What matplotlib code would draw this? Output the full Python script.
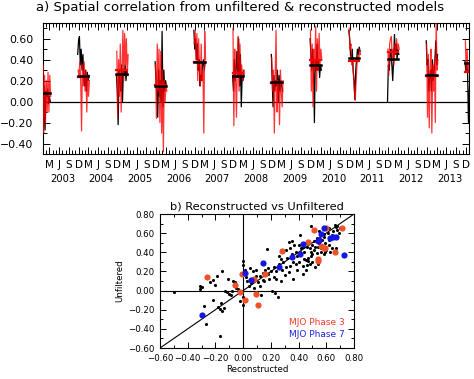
import matplotlib
matplotlib.use("Agg")
import matplotlib.pyplot as plt
import matplotlib.transforms as mtransforms
from matplotlib.ticker import MultipleLocator, FixedLocator

# ---- panel a: spatial correlation per winter season ----
season_years = [2003, 2004, 2005, 2006, 2007, 2008, 2009, 2010, 2011, 2012, 2013, 2014]

black_seasons = [
    [0.20, -0.10, 0.15, -0.05, 0.20, -0.35, 0.15, -0.27, 0.10, 0.05, 0.12, -0.02, 0.05, 0.00],
    [0.45, 0.58, 0.62, 0.35, 0.50, 0.30, 0.45, 0.22, 0.15, 0.30, 0.10, 0.28, 0.20, 0.25],
    [0.25, 0.10, -0.22, 0.30, 0.20, 0.10, 0.35, 0.00, 0.30, 0.25, 0.35, 0.20, 0.30, 0.25],
    [0.38, 0.20, 0.10, -0.15, 0.30, 0.05, 0.20, 0.00, 0.67, -0.05, 0.30, 0.10, 0.20, 0.15],
    [0.68, 0.50, 0.60, 0.40, 0.55, 0.30, 0.40, 0.15, 0.25, 0.20, 0.35, 0.40, 0.30, 0.38],
    [0.25, 0.10, 0.40, 0.20, 0.30, 0.48, 0.25, 0.60, 0.15, 0.45, -0.05, 0.25, 0.20, 0.30],
    [0.45, 0.20, -0.05, 0.25, 0.10, 0.20, 0.15, 0.30, 0.00, 0.25, 0.10, 0.20, 0.15, 0.10],
    [0.60, 0.45, 0.30, 0.50, 0.35, -0.20, 0.40, 0.30, 0.55, 0.30, 0.40, 0.23, 0.35, 0.30],
    [0.68, 0.60, 0.45, 0.40, 0.50, 0.30, 0.20, 0.02, 0.30, 0.40, 0.50, 0.45, 0.52, 0.48],
    [0.00, 0.35, 0.30, 0.45, 0.50, 0.35, 0.20, 0.40, 0.64, 0.45, 0.55, 0.40, 0.50, 0.45],
    [0.58, 0.35, 0.40, 0.10, 0.25, 0.30, 0.10, 0.40, 0.20, 0.30, 0.40, 0.58, 0.35, 0.45],
    [0.38, 0.30, 0.35, 0.28, -0.20, 0.10, 0.30, 0.20, 0.30, 0.25, 0.30, 0.20, 0.30, 0.25],
]
red_seasons = [
    [0.30, -0.05, 0.20, 0.10, 0.35, -0.30, 0.25, -0.20, 0.20, -0.10, 0.28, -0.10, 0.25, 0.05],
    [0.30, 0.25, 0.38, 0.20, -0.28, 0.35, 0.15, 0.38, 0.10, 0.30, -0.10, 0.25, 0.05, 0.20],
    [0.48, -0.14, 0.40, 0.05, 0.55, -0.10, 0.30, 0.68, 0.20, 0.65, 0.35, 0.60, 0.25, 0.45],
    [0.35, -0.16, 0.55, 0.10, 0.50, -0.20, 0.48, -0.30, 0.30, -0.48, 0.20, 0.00, 0.15, 0.10],
    [0.55, 0.68, 0.40, 0.65, 0.20, 0.60, 0.30, 0.15, 0.55, 0.20, 0.30, -0.30, 0.67, 0.40],
    [0.70, -0.23, 0.50, 0.20, -0.15, 0.40, 0.62, 0.10, 0.55, 0.25, 0.35, 0.20, 0.30, 0.25],
    [0.42, 0.10, 0.30, -0.30, 0.25, 0.68, -0.10, 0.20, 0.15, -0.22, 0.30, 0.10, -0.05, 0.20],
    [0.68, 0.10, 0.55, -0.05, 0.50, 0.30, 0.72, 0.10, 0.60, 0.30, 0.65, 0.35, 0.50, 0.40],
    [0.70, 0.50, 0.55, 0.35, 0.40, 0.25, 0.10, 0.01, 0.20, 0.35, 0.45, 0.40, 0.50, 0.45],
    [0.50, 0.25, 0.55, 0.60, 0.62, 0.40, 0.50, 0.35, 0.55, 0.45, 0.60, 0.50, 0.55, 0.50],
    [0.55, -0.15, 0.45, -0.25, 0.30, 0.50, -0.30, 0.35, 0.10, 0.40, -0.20, 0.75, 0.30, 0.40],
    [0.58, 0.30, 0.50, 0.28, 0.35, 0.30, 0.40, 0.30, 0.35, 0.30, 0.40, 0.30, 0.35, 0.30],
]
black_means = [0.08, 0.24, 0.26, 0.15, 0.38, 0.24, 0.19, 0.35, 0.42, 0.41, 0.25, 0.37]
red_means = [0.08, 0.23, 0.30, 0.16, 0.38, 0.27, 0.18, 0.40, 0.39, 0.47, 0.24, 0.28]

month_letters = ["M", "J", "S", "D"]
year_labels = ["2003", "2004", "2005", "2006", "2007", "2008", "2009", "2010", "2011", "2012", "2013"]

# ---- panel b: reconstructed vs unfiltered ----
black_recon = [-0.50, -0.31, -0.31, -0.28, -0.27, -0.24, -0.22, -0.20, -0.22, -0.15, -0.18, -0.17,
               -0.16, -0.15, -0.14, -0.17, -0.11, -0.10, -0.09, -0.08, -0.06, -0.05, -0.13, -0.12,
               -0.02, 0.00, 0.00, -0.04, -0.07, -0.19, 0.00, 0.00, 0.01, 0.03, 0.04, 0.06, 0.05,
               0.07, 0.09, 0.08, 0.10, 0.12, 0.13, 0.15, 0.14, 0.17, 0.18, 0.20, 0.19, 0.21, 0.22,
               0.23, 0.25, 0.24, 0.26, 0.27, 0.28, 0.30, 0.29, 0.32, 0.31, 0.33, 0.34, 0.35, 0.36,
               0.37, 0.38, 0.36, 0.39, 0.40, 0.41, 0.42, 0.43, 0.44, 0.45, 0.44, 0.46, 0.47, 0.47,
               0.48, 0.49, 0.49, 0.50, 0.50, 0.51, 0.52, 0.53, 0.53, 0.54, 0.55, 0.56, 0.57, 0.58,
               0.58, 0.59, 0.60, 0.61, 0.62, 0.63, 0.64, 0.65, 0.66, 0.67, 0.68, 0.69, 0.70, 0.68,
               0.45, 0.46, 0.47, 0.33, 0.54, 0.57, 0.60, 0.16, 0.11, 0.02, 0.26, 0.41, 0.43, 0.52,
               0.62, 0.38, 0.40, 0.44, 0.48, 0.49, 0.51, 0.56, 0.39, 0.31, 0.27, 0.35, 0.22, 0.18,
               0.12, 0.14, 0.09, 0.24, 0.34, 0.43, 0.50, 0.59, 0.55, 0.62, 0.64, 0.67, 0.58, -0.30]
black_unfilt = [-0.02, 0.05, 0.02, -0.16, -0.35, 0.09, 0.11, 0.06, -0.10, 0.20, -0.17, -0.19,
                -0.13, -0.21, -0.18, -0.47, 0.12, -0.04, -0.05, 0.00, 0.09, 0.03, 0.00, -0.02,
                -0.11, -0.07, -0.15, 0.02, 0.10, 0.15, 0.31, 0.27, 0.21, 0.10, 0.05, 0.08, 0.24,
                0.20, 0.15, 0.03, -0.03, 0.05, -0.05, 0.10, 0.18, 0.43, 0.24, 0.20, 0.12, 0.00, 0.14,
                -0.03, -0.07, 0.20, 0.28, 0.10, 0.22, 0.16, 0.30, 0.34, 0.42, 0.19, 0.26, 0.52, 0.30,
                0.48, 0.28, 0.12, 0.36, 0.30, 0.58, 0.44, 0.26, 0.33, 0.22, 0.40, 0.46, 0.31, 0.52,
                0.28, 0.36, 0.67, 0.48, 0.30, 0.42, 0.25, 0.39, 0.55, 0.46, 0.50, 0.40, 0.44, 0.38,
                0.56, 0.50, 0.42, 0.60, 0.48, 0.40, 0.58, 0.62, 0.68, 0.66, 0.63, 0.60, 0.65, 0.67,
                0.32, 0.27, 0.34, 0.51, 0.28, 0.53, 0.45, 0.22, 0.09, 0.14, 0.36, 0.40, 0.46, 0.46,
                0.53, 0.40, 0.48, 0.50, 0.45, 0.40, 0.52, 0.45, 0.21, 0.25, 0.33, 0.38, 0.25, 0.17,
                0.15, 0.11, 0.21, 0.12, 0.44, 0.17, 0.38, 0.40, 0.62, 0.65, 0.45, 0.44, 0.59, 0.04]

phase3_recon = [-0.26, -0.06, -0.01, 0.01, -0.02, 0.09, 0.11, 0.08, 0.16, 0.28, 0.47, 0.51,
                0.54, 0.54, 0.56, 0.58, 0.59, 0.66, 0.71, 0.60]
phase3_unfilt = [0.14, 0.06, 0.17, -0.10, -0.02, -0.04, -0.15, 0.12, 0.17, 0.41, 0.51, 0.63,
                 0.33, 0.31, 0.47, 0.44, 0.45, 0.40, 0.65, 0.65]
phase7_recon = [-0.30, 0.01, 0.06, 0.14, 0.26, 0.35, 0.41, 0.43, 0.55, 0.56, 0.58, 0.63,
                0.65, 0.67, 0.73, 0.54]
phase7_unfilt = [-0.25, 0.18, 0.11, 0.29, 0.25, 0.35, 0.38, 0.49, 0.53, 0.59, 0.65, 0.55,
                 0.56, 0.56, 0.37, 0.52]

fig = plt.figure(figsize=(4.74, 3.79), dpi=100)

# ---------------- panel a ----------------
ax = fig.add_axes([43 / 474, 1 - 154 / 379, 426 / 474, 131 / 379])
npts = len(black_seasons[0])
for i, yr in enumerate(season_years):
    start = 12 * (yr - 2003) - 1.25
    step = 3.5 / (npts - 1)
    xb = [start + k * step for k in range(npts)]
    xr = [start + 0.12 + k * step for k in range(npts)]
    ax.plot(xb, black_seasons[i], color="black", lw=0.9, zorder=2)
    ax.plot(xr, red_seasons[i], color="red", lw=0.9, alpha=0.8, zorder=3)
    ax.plot([start, start + 3.3], [red_means[i], red_means[i]], color="red", lw=1.6, zorder=4)
    ax.plot([start, start + 3.3], [black_means[i], black_means[i]], color="black", lw=1.8, zorder=5)

ax.axhline(0, color="black", lw=0.9, zorder=1)
ax.set_xlim(0, 132)
ax.set_ylim(-0.5, 0.75)

month_ticks = [12 * y + m for y in range(11) for m in (2, 5, 8, 11)]
ax.xaxis.set_major_locator(FixedLocator(month_ticks))
ax.set_xticklabels([month_letters[k % 4] for k in range(len(month_ticks))])
ax.xaxis.set_minor_locator(MultipleLocator(1))
ax.set_yticks([-0.4, -0.2, 0.0, 0.2, 0.4, 0.6])
ax.set_yticklabels(["\u22120.40", "\u22120.20", "0.00", "0.20", "0.40", "0.60"])
ax.yaxis.set_minor_locator(MultipleLocator(0.1))
ax.tick_params(which="both", direction="in", top=True, right=True, width=0.7)
ax.tick_params(which="major", length=5)
ax.tick_params(which="minor", length=3)
ax.tick_params(axis="y", which="major", labelsize=7.8, pad=7)
ax.tick_params(axis="x", which="major", labelsize=7.5, pad=4)

trans = mtransforms.blended_transform_factory(ax.transData, ax.transAxes)
for k, lab in enumerate(year_labels):
    ax.text(12 * k + 6, -0.19, lab, transform=trans, ha="center", va="center", fontsize=7.2)

fig.text(36 / 474, 1 - 8 / 379, "a) Spatial correlation from unfiltered & reconstructed models",
         ha="left", va="center", fontsize=9.5)

# ---------------- panel b ----------------
bx = fig.add_axes([160 / 474, 1 - 348 / 379, 194 / 474, 134 / 379])
bx.plot([-0.6, 0.8], [-0.6, 0.8], color="black", lw=0.8, zorder=1)
bx.axhline(0, color="black", lw=0.8, zorder=1)
bx.axvline(0, color="black", lw=0.8, zorder=1)
bx.scatter(black_recon, black_unfilt, s=5, color="black", zorder=2, linewidths=0)
bx.scatter(phase3_recon, phase3_unfilt, s=20, color="#ef5128", zorder=3, linewidths=0)
bx.scatter(phase7_recon, phase7_unfilt, s=20, color="#1515e6", zorder=3, linewidths=0)
bx.set_xlim(-0.6, 0.8)
bx.set_ylim(-0.6, 0.8)
ticks = [-0.6, -0.4, -0.2, 0.0, 0.2, 0.4, 0.6, 0.8]
tick_labels = ["\u22120.60", "\u22120.40", "\u22120.20", "0.00", "0.20", "0.40", "0.60", "0.80"]
bx.set_xticks(ticks)
bx.set_xticklabels(tick_labels)
bx.set_yticks(ticks)
bx.set_yticklabels(tick_labels)
bx.xaxis.set_minor_locator(MultipleLocator(0.1))
bx.yaxis.set_minor_locator(MultipleLocator(0.1))
bx.tick_params(which="both", direction="in", top=True, right=True, width=0.7)
bx.tick_params(which="major", length=4, labelsize=6.2, pad=4)
bx.tick_params(which="minor", length=2.5)
bx.set_xlabel("Reconstructed", fontsize=6.2, labelpad=2)
bx.set_ylabel("Unfiltered", fontsize=6.2, labelpad=3)
bx.set_title("b) Reconstructed vs Unfiltered", fontsize=8.2, pad=3)
bx.text(0.33, -0.33, "MJO Phase 3", color="#f03a2a", fontsize=6.5, ha="left", va="center")
bx.text(0.33, -0.46, "MJO Phase 7", color="#2020e0", fontsize=6.5, ha="left", va="center")

plt.savefig("out.png", dpi=100)
plt.close()
